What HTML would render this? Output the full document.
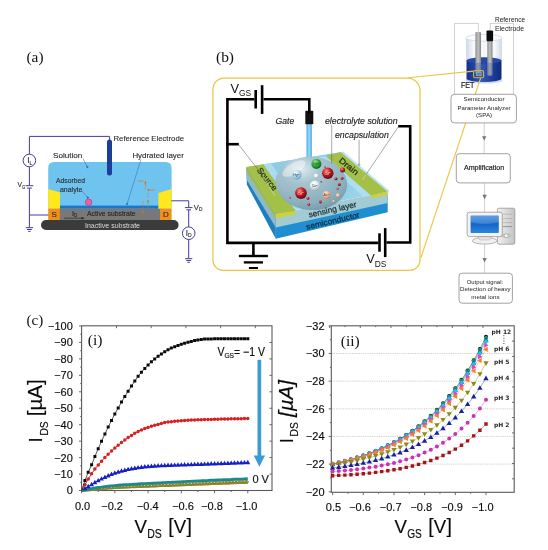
<!DOCTYPE html>
<html lang="en">
<head>
<meta charset="utf-8">
<title>FET sensor figure</title>
<style>
html,body{margin:0;padding:0;background:#fff;}
body{width:548px;height:550px;overflow:hidden;font-family:'Liberation Sans', 'DejaVu Sans', sans-serif;}
svg{display:block;}
text{font-family:'Liberation Sans', 'DejaVu Sans', sans-serif;}
.serif{font-family:'Liberation Serif', 'DejaVu Serif', serif;}
</style>
</head>
<body>
<svg width="548" height="550" viewBox="0 0 548 550">
<rect width="548" height="550" fill="#ffffff"/>
<g id="panel-a">
<text class="serif" x="26.5" y="61.6" font-size="15.5" fill="#111" textLength="17" lengthAdjust="spacingAndGlyphs">(a)</text>
<path d="M48.2,208.6 V168 Q48.2,162 54.2,162 H165.6 Q171.6,162 171.6,168 V208.6 Z" fill="#6fc3ef"/>
<rect x="59.8" y="205.6" width="98.8" height="3.2" fill="#1b75c9"/>
<rect x="59" y="208.6" width="102" height="11.6" fill="#787878"/>
<polygon points="48.2,189 60,192.6 60,208.6 48.2,208.6" fill="#ffe81e"/>
<polygon points="158.4,193 171.6,189 171.6,208.6 158.4,208.6" fill="#ffe81e"/>
<rect x="48.2" y="208.6" width="11.6" height="11.6" fill="#f0901c"/>
<rect x="160" y="208.6" width="11.6" height="11.6" fill="#f0901c"/>
<rect x="41" y="220" width="137.6" height="10" rx="5" ry="5" fill="#3b3b3b"/>
<rect x="107" y="139.4" width="5" height="36" rx="2.5" fill="#1c3e96"/>
<g fill="none" stroke="#433d9a" stroke-width="1">
<path d="M109.6,140 V136.4 H29.4 V154.2"/>
<circle cx="29.4" cy="160.5" r="6.3" fill="#fff"/>
<path d="M29.4,166.8 V185.4"/>
<path d="M25.5,185.7 H33.3"/>
<path d="M27,188.1 H31.8"/>
<path d="M29.4,188.3 V227.4"/>
<path d="M29.4,215 H48.4"/>
<path d="M25.8,227.7 H33 M27,229.5 H31.8 M28.2,231.3 H30.6"/>
<path d="M171.4,200.8 H188.7 V207.2"/>
<path d="M184.9,207.6 H192.5"/>
<path d="M186.4,209.8 H191"/>
<path d="M188.7,210 V226.8"/>
<circle cx="188.7" cy="233.2" r="6.3" fill="#fff"/>
<path d="M188.7,239.6 V258.4"/>
<path d="M185.1,258.7 H192.3 M186.3,260.5 H191.1 M187.5,262.3 H189.9"/>
</g>
<g fill="#2b2b2b" font-size="8" stroke="#2b2b2b" stroke-width="0.12">
<text x="113.5" y="141.2" textLength="70.5" lengthAdjust="spacingAndGlyphs">Reference Electrode</text>
<text x="53" y="158.2" textLength="29.4" lengthAdjust="spacingAndGlyphs">Solution</text>
<text x="132.4" y="158.2" textLength="51.4" lengthAdjust="spacingAndGlyphs">Hydrated layer</text>
<text x="56" y="182.6" textLength="29" lengthAdjust="spacingAndGlyphs">Adsorbed</text>
<text x="60" y="192" textLength="22.4" lengthAdjust="spacingAndGlyphs">analyte</text>
<text x="87" y="215.8" textLength="48.6" lengthAdjust="spacingAndGlyphs" fill="#1e1e1e">Active substrate</text>
<text x="85" y="228" textLength="55" lengthAdjust="spacingAndGlyphs" fill="#f4f4f4">Inactive substrate</text>
<text x="51.6" y="217.4" fill="#3a2a10">S</text>
<text x="163" y="217.4" fill="#3a2a10">D</text>
<text x="72" y="216" font-size="7.5" fill="#1e1e1e">I<tspan font-size="4.5" dy="1.4">D</tspan></text>
<text x="17.5" y="187.2" font-size="7.6" textLength="7.7" lengthAdjust="spacingAndGlyphs">V<tspan font-size="4.8" dy="1.4">G</tspan></text>
<text x="193.8" y="209.8" font-size="7.6">V<tspan font-size="4.8" dy="1.4">D</tspan></text>
<text x="27.2" y="163.2" font-size="8.2">I<tspan font-size="5" dy="1.6">L</tspan></text>
<text x="185.8" y="235.8" font-size="8.2">I<tspan font-size="5" dy="1.6">D</tspan></text>
</g>
<path d="M64,218.2 H82.6" stroke="#1e1e1e" stroke-width="0.6" fill="none"/>
<polygon points="84.6,218.2 81.6,217 81.6,219.4" fill="#1e1e1e"/>
<g stroke="#2a62b8" stroke-width="0.5" fill="#2a62b8">
<path d="M83,158.6 L87.2,166.6"/><circle cx="87.4" cy="167" r="0.8"/>
<path d="M81.4,190.4 L87.6,197.4"/><circle cx="87.8" cy="197.6" r="0.8"/>
<path d="M141,159.4 L127.2,203.6"/><circle cx="127" cy="204" r="0.8"/>
</g>
<circle cx="88.6" cy="202.3" r="3.3" fill="#ea5fa5" stroke="#a83a78" stroke-width="0.6"/>
<g stroke="#d9701e" stroke-width="0.7" fill="none">
<path d="M138,181 H143.4"/>
<path d="M145.8,186.4 L145.2,182.6" />
<path d="M145,187.8 L144.2,190.4" stroke-dasharray="1.4 1"/>
<path d="M150,190 H155"/>
<path d="M148.6,193.4 L147.6,197.8" stroke-dasharray="1.4 1"/>
<path d="M148,201 V204.4"/>
<path d="M143,201.4 V212" stroke-dasharray="1.6 1"/>
<path d="M148,206.4 V208" />
</g>
<g fill="#d9701e">
<polygon points="145.3,180.4 144.2,183.2 146.6,183.2"/>
<polygon points="146.6,190 149.4,188.8 149.4,191.2"/>
<polygon points="148,199.4 146.8,202 149.2,202"/>
<polygon points="143,213.6 141.8,211 144.2,211"/>
</g>
</g>
<defs>
<radialGradient id="gRed" cx="0.38" cy="0.32" r="0.75"><stop offset="0" stop-color="#ff9488"/><stop offset="0.45" stop-color="#c41a22"/><stop offset="1" stop-color="#520810"/></radialGradient>
<radialGradient id="gGreen" cx="0.38" cy="0.32" r="0.75"><stop offset="0" stop-color="#b8f5a0"/><stop offset="0.45" stop-color="#2fae3c"/><stop offset="1" stop-color="#0c5a1c"/></radialGradient>
<radialGradient id="gWhite" cx="0.38" cy="0.32" r="0.75"><stop offset="0" stop-color="#ffffff"/><stop offset="0.45" stop-color="#e4ecef"/><stop offset="1" stop-color="#8fa3ad"/></radialGradient>
<radialGradient id="gHg" cx="0.38" cy="0.32" r="0.75"><stop offset="0" stop-color="#ffffff"/><stop offset="0.45" stop-color="#b9ddf0"/><stop offset="1" stop-color="#5d9cc4"/></radialGradient>
<radialGradient id="gAs" cx="0.38" cy="0.32" r="0.75"><stop offset="0" stop-color="#ffe9dc"/><stop offset="0.45" stop-color="#f0b89a"/><stop offset="1" stop-color="#b9785c"/></radialGradient>
<radialGradient id="gDome" cx="0.35" cy="0.25" r="0.85"><stop offset="0" stop-color="#dfeaee" stop-opacity="0.97"/><stop offset="0.3" stop-color="#a8c5ce" stop-opacity="0.95"/><stop offset="0.75" stop-color="#8aaebb" stop-opacity="0.96"/><stop offset="1" stop-color="#6a93a5" stop-opacity="0.98"/></radialGradient>
<linearGradient id="gTube" x1="0" x2="1" y1="0" y2="0"><stop offset="0" stop-color="#48a8e2"/><stop offset="0.5" stop-color="#9cdcf8"/><stop offset="1" stop-color="#44a4de"/></linearGradient>
<linearGradient id="gTop" x1="0" x2="1" y1="0.2" y2="0.5"><stop offset="0" stop-color="#5aaed8"/><stop offset="0.45" stop-color="#7cc2e0"/><stop offset="1" stop-color="#a6daee"/></linearGradient>
<linearGradient id="gStrip" x1="0" x2="1" y1="0" y2="1"><stop offset="0" stop-color="#a6c34a"/><stop offset="1" stop-color="#93b43c"/></linearGradient>
<clipPath id="clipB"><rect x="212" y="77" width="210" height="195"/></clipPath>
</defs>
<g id="panel-b">
<text class="serif" x="216" y="61.5" font-size="15.5" fill="#111" textLength="18" lengthAdjust="spacingAndGlyphs">(b)</text>
<path d="M223.9,78.1 H407.5 A12.5,12.5 0 0 1 420.0,90.6 V259.9 A10.5,10.5 0 0 1 409.5,270.4 H223.4 A10.5,10.5 0 0 1 212.9,259.9 V89.1 A11,11 0 0 1 223.9,78.1 Z" fill="#fff" stroke="#e9c648" stroke-width="1.2"/>
<polygon points="246.4,167.2 275.8,214 275.8,238.8 246.9,184.8" fill="#1d7fbd"/>
<polygon points="246.4,167.2 275.8,214 275.8,227.6 246.7,179.7" fill="#8fb9c6"/>
<polygon points="246.4,167.2 275.8,214 275.8,218.4 246.5,171.2" fill="#a3ba40"/>
<polygon points="275.8,218 387.7,194 387.7,212.2 275.8,238.8" fill="#1f8fd2"/>
<polygon points="275.8,214 387.7,191.4 387.7,203 275.8,227.6" fill="#a3cbd4"/>
<polygon points="246.4,167.2 343.2,151.8 387.7,191.4 275.8,214" fill="url(#gTop)"/>
<polygon points="263.2,164.3 325.5,155 340,167 270,176" fill="#a8dcf0" opacity="0.55"/>
<polygon points="263.2,164.3 271,163.2 302,209.6 295.6,211" fill="#b4def1" opacity="0.85"/>
<polygon points="319,157.2 326,156.2 371,195.4 364,197" fill="#b4def1" opacity="0.85"/>
<polygon points="246.5,167 263.2,164.3 295.6,211 275.8,214" fill="#a4c046"/>
<polygon points="275.8,214 295.6,211 295.6,214.6 275.8,218.4" fill="#cbd23e"/>
<polygon points="326,156.2 340.6,152 387.7,191.4 371,195.4" fill="#a4c046"/>
<polygon points="371,195.4 387.7,191.4 387.7,195 371.8,198.4" fill="#c9d042"/>
<polygon points="340.6,152 343.2,151.8 389.2,190.6 387.7,195 387.7,191.4" fill="#bfe3f2"/>
<rect x="306.5" y="123" width="5.3" height="38" fill="url(#gTube)"/>
<ellipse cx="311.2" cy="183.4" rx="36" ry="26.6" fill="url(#gDome)" transform="rotate(4 311.2 183.4)"/>
<ellipse cx="294" cy="168.5" rx="13" ry="5.5" fill="#ffffff" opacity="0.42" transform="rotate(-32 294 168.5)"/>
<circle cx="316.4" cy="164.0" r="5.0" fill="url(#gGreen)"/>
<circle cx="327.8" cy="173.2" r="5.7" fill="url(#gRed)"/>
<circle cx="342.6" cy="170.0" r="2.5" fill="url(#gRed)"/>
<circle cx="296.6" cy="174.8" r="4.9" fill="url(#gHg)"/>
<circle cx="315.0" cy="185.6" r="5.2" fill="url(#gWhite)"/>
<circle cx="301.0" cy="193.1" r="5.9" fill="url(#gRed)"/>
<circle cx="326.6" cy="195.0" r="4.1" fill="url(#gAs)"/>
<circle cx="316.2" cy="176.0" r="2.4" fill="url(#gWhite)"/>
<circle cx="338.0" cy="195.4" r="2.1" fill="url(#gAs)"/>
<circle cx="333.6" cy="201.2" r="1.3" fill="url(#gAs)"/>
<circle cx="336" cy="178.7" r="1.5" fill="url(#gRed)"/>
<circle cx="342.1" cy="178.4" r="1.4" fill="url(#gRed)"/>
<circle cx="339.3" cy="184.4" r="1.5" fill="url(#gRed)"/>
<circle cx="321.2" cy="181.8" r="0.8" fill="url(#gRed)"/>
<circle cx="308" cy="198.4" r="1.4" fill="url(#gRed)"/>
<circle cx="290.2" cy="197.8" r="0.8" fill="url(#gRed)"/>
<circle cx="320.4" cy="202" r="1.4" fill="url(#gRed)"/>
<circle cx="308.8" cy="204.6" r="1.3" fill="url(#gRed)"/>
<circle cx="325" cy="167" r="0.8" fill="url(#gRed)"/>
<circle cx="337.6" cy="188.8" r="1.0" fill="url(#gRed)"/>
<rect x="305.3" y="110.8" width="8" height="13.4" rx="0.8" fill="#111"/>
<g font-size="3.4" fill="#1a2a33" font-style="italic" text-anchor="middle">
<text x="316.5" y="165.2">Pb<tspan font-size="2.2" dy="-1.2">2+</tspan></text>
<text x="296.7" y="176">Hg<tspan font-size="2.2" dy="-1.2">2+</tspan></text>
<text x="315.1" y="186.9">Cu<tspan font-size="2.2" dy="-1.2">2+</tspan></text>
<text x="301" y="194.5" fill="#fbdada">Cd<tspan font-size="2.2" dy="-1.2">2+</tspan></text>
<text x="327.8" y="174.6" fill="#fbdada">Cd<tspan font-size="2.2" dy="-1.2">2+</tspan></text>
<text x="326.7" y="196.2">As<tspan font-size="2.2" dy="-1.2">3+</tspan></text>
</g>
<text x="0" y="0" font-size="8.6" fill="#1c2a14" transform="translate(256.4,170.4) rotate(51)" textLength="27" lengthAdjust="spacingAndGlyphs" stroke="#1a2a2a" stroke-width="0.22">Source</text>
<text x="0" y="0" font-size="8.2" fill="#1c2a14" transform="translate(338.2,161.4) rotate(38.5)" textLength="22.6" lengthAdjust="spacingAndGlyphs" stroke="#1a2a2a" stroke-width="0.22">Drain</text>
<text x="0" y="0" font-size="8.2" fill="#13303c" transform="translate(309.2,217.6) rotate(-12.7)" textLength="49" lengthAdjust="spacingAndGlyphs" stroke="#1a2a2a" stroke-width="0.22">sensing layer</text>
<text x="0" y="0" font-size="8.2" fill="#0c2a44" transform="translate(306.8,229.8) rotate(-13.2)" textLength="54.6" lengthAdjust="spacingAndGlyphs" stroke="#1a2a2a" stroke-width="0.22">semiconductor</text>
<g stroke="#555" stroke-width="0.5" fill="none">
<path d="M238.4,144.3 L263,176"/>
<path d="M263,176 L274.8,195.8" stroke="#e8eedc"/>
<path d="M398.2,127 L366,174.6"/>
<path d="M366,174.6 L362.4,180" stroke="#e8eedc"/>
<path d="M331.7,124.6 V163.6"/>
<path d="M359.1,139.8 V164"/>
<circle cx="359.1" cy="164.8" r="0.9" fill="#fff"/>
</g>
<g font-size="8.2" font-style="italic" fill="#222" stroke="#222" stroke-width="0.14">
<text x="275.6" y="124.4" textLength="18.7" lengthAdjust="spacingAndGlyphs">Gate</text>
<text x="325" y="124" textLength="72.6" lengthAdjust="spacingAndGlyphs">electrolyte solution</text>
<text x="335" y="138" textLength="53.8" lengthAdjust="spacingAndGlyphs">encapsulation</text>
</g>
<g stroke="#000" stroke-width="2.6" fill="none" stroke-linejoin="miter" stroke-linecap="butt">
<path d="M254.4,99.2 H227.4 V242.9 H378.2"/>
<path d="M263.5,99.2 H309.3 V113"/>
<path d="M226.2,144.2 H238.8"/>
<path d="M386.5,242.5 H410.2 V126.3 H398.2"/>
<path d="M255.7,90 V108.5"/>
<path d="M262.1,85.2 V113.9"/>
<path d="M379.5,233.3 V251.7"/>
<path d="M385.2,228.1 V257.1"/>
<path d="M253.4,242.9 V256"/>
<path d="M238.9,256 H267.9" stroke-width="2.4"/>
<path d="M243.8,262.4 H263" stroke-width="2.3"/>
<path d="M248.9,268 H258" stroke-width="2"/>
</g>
<g fill="#111">
<text x="230.4" y="92.9" font-size="12.8">V<tspan font-size="8.4" dy="3.2">GS</tspan></text>
<text x="366.2" y="262.7" font-size="12.8">V<tspan font-size="8.4" dy="3.8">DS</tspan></text>
</g>
</g>
<defs>
<linearGradient id="gLiq" x1="0" x2="1" y1="0" y2="0"><stop offset="0" stop-color="#15328c"/><stop offset="0.45" stop-color="#2f55b6"/><stop offset="1" stop-color="#10297c"/></linearGradient>
<linearGradient id="gRod" x1="0" x2="1" y1="0" y2="0"><stop offset="0" stop-color="#8e8e8e"/><stop offset="0.5" stop-color="#c2c2c2"/><stop offset="1" stop-color="#858585"/></linearGradient>
<linearGradient id="gGlass" x1="0" x2="1" y1="0" y2="0"><stop offset="0" stop-color="#c9d4e6"/><stop offset="0.2" stop-color="#f4f7fb"/><stop offset="0.8" stop-color="#f4f7fb"/><stop offset="1" stop-color="#c9d4e6"/></linearGradient>
<linearGradient id="gScreen" x1="0" x2="0" y1="0" y2="1"><stop offset="0" stop-color="#3f8fe0"/><stop offset="0.5" stop-color="#1565c8"/><stop offset="1" stop-color="#2a86dc"/></linearGradient>
<linearGradient id="gTower" x1="0" x2="1" y1="0" y2="0"><stop offset="0" stop-color="#f1f1f1"/><stop offset="1" stop-color="#c4c4c4"/></linearGradient>
</defs>
<g id="flow">
<g stroke="#b2b2b2" stroke-width="0.6" fill="none">
<path d="M454.5,94.3 V23.4 H478.3 V32.4"/>
<path d="M513.5,94.3 V23.4 H490.2 V30.8"/>
</g>
<path d="M466,37.8 V79 A18,3.4 0 0 0 502,79 V37.8 A18,3.4 0 0 0 466,37.8 Z" fill="url(#gGlass)" opacity="0.9"/>
<ellipse cx="484" cy="37.8" rx="18" ry="3.4" fill="#fbfcfe" stroke="#c7d0e0" stroke-width="0.6"/>
<ellipse cx="484" cy="80.4" rx="18.4" ry="3.2" fill="#5a7be0" opacity="0.28"/><path d="M466.6,60.6 V78.6 A17.4,3.3 0 0 0 501.4,78.6 V60.6 Z" fill="url(#gLiq)"/>
<ellipse cx="484" cy="60.6" rx="17.4" ry="3.3" fill="#2749a8"/>
<rect x="475.4" y="32" width="5.6" height="42" rx="0.8" fill="url(#gRod)"/>
<rect x="487.3" y="40" width="5.2" height="35.6" rx="0.8" fill="url(#gRod)"/>
<rect x="486.5" y="30.4" width="6.6" height="10.8" rx="1.2" fill="#0c0c0c"/>
<rect x="475.4" y="62.8" width="5.6" height="11.2" fill="#2d52b4" opacity="0.35"/>
<rect x="487.3" y="62.8" width="5.2" height="12.8" fill="#2d52b4" opacity="0.3"/>
<rect x="476.2" y="72.2" width="5" height="3.6" fill="#5585bd" stroke="#9cc8e6" stroke-width="0.5"/>
<path d="M408,77.7 L473.6,71.1" stroke="#e9c648" stroke-width="1.1" fill="none"/>
<path d="M480.6,78 L420.8,258" stroke="#e9c648" stroke-width="1.1" fill="none"/>
<rect x="473.6" y="70.6" width="10" height="7.1" rx="1.4" fill="none" stroke="#dcb434" stroke-width="1.1"/>
<g fill="#222">
<text x="461" y="87.8" font-size="8.2" textLength="13.4" lengthAdjust="spacingAndGlyphs" stroke="#222" stroke-width="0.2">FET</text>
<text x="495" y="22.4" font-size="6.8" textLength="30" lengthAdjust="spacingAndGlyphs">Reference</text>
<text x="495" y="31.4" font-size="6.8" textLength="29" lengthAdjust="spacingAndGlyphs">Electrode</text>
</g>
<g fill="#fff" stroke="#7a7a7a" stroke-width="0.7">
<rect x="451" y="94.3" width="65.4" height="28.6" rx="3.4"/>
<rect x="456.3" y="153.7" width="54" height="29.2" rx="3.2"/>
<rect x="459" y="273.2" width="53.4" height="30" rx="3.2"/>
</g>
<g stroke="#b0b0b0" stroke-width="0.6" fill="none">
<path d="M484.2,122.9 V153.7"/>
<path d="M484.6,182.9 V212"/>
<path d="M484.6,244 V273.2"/>
</g>
<g fill="#777777">
<polygon points="482,136.2 486.4,136.2 484.2,140.6"/>
<polygon points="482.4,194.8 486.8,194.8 484.6,199.4"/>
<polygon points="482.4,258 486.8,258 484.6,262.6"/>
</g>
<g fill="#222" text-anchor="middle">
<text x="484.1" y="101.4" font-size="6.2" textLength="41" lengthAdjust="spacingAndGlyphs">Semiconductor</text>
<text x="484" y="109.6" font-size="6.2" textLength="53" lengthAdjust="spacingAndGlyphs">Parameter Analyzer</text>
<text x="484.1" y="117.4" font-size="6.2">(SPA)</text>
<text x="484.1" y="170.2" font-size="7.4" textLength="40.4" lengthAdjust="spacingAndGlyphs" stroke="#222" stroke-width="0.2">Amplification</text>
<text x="484.9" y="284" font-size="6.2" textLength="36.4" lengthAdjust="spacingAndGlyphs">Output signal:</text>
<text x="485.3" y="291.4" font-size="6.2" textLength="50.6" lengthAdjust="spacingAndGlyphs">Detection of heavy</text>
<text x="485.4" y="299" font-size="6.2">metal ions</text>
</g>
<rect x="497.4" y="208.2" width="17.4" height="36" rx="1.6" fill="url(#gTower)" stroke="#8a8a8a" stroke-width="0.7"/>
<g stroke="#9a9a9a" stroke-width="0.5"><path d="M503,214.2 H512.2 M503,218.6 H512.2 M503,222.6 H512.2"/></g>
<path d="M503,226.6 H512.2" stroke="#777" stroke-width="0.7"/>
<ellipse cx="506.2" cy="235.7" rx="4.6" ry="1.6" fill="#d8d8d8" stroke="#8a8a8a" stroke-width="0.5"/>
<circle cx="506.2" cy="235.7" r="2" fill="#f4f4f4" stroke="#7a9a7a" stroke-width="0.5"/>
<ellipse cx="484.6" cy="240.8" rx="12.4" ry="3.3" fill="#f0f0f0" stroke="#8a8a8a" stroke-width="0.6"/>
<path d="M477.6,236 H491.6 L489.4,240 H479.8 Z" fill="#e4e4e4" stroke="#9a9a9a" stroke-width="0.4"/>
<rect x="467.1" y="212.2" width="35.2" height="24.4" rx="2.4" fill="#f3f3f3" stroke="#8a8a8a" stroke-width="0.7"/>
<rect x="470.6" y="215.4" width="28.2" height="17.6" rx="0.8" fill="url(#gScreen)"/>
<path d="M470.6,215.4 H498.8 V222 Q484.6,226 470.6,222 Z" fill="#ffffff" opacity="0.16"/>
</g>
<g id="panel-c">
<text class="serif" x="26.5" y="324.7" font-size="15.5" fill="#111" textLength="16.7" lengthAdjust="spacingAndGlyphs">(c)</text>
<rect x="81.6" y="325.8" width="190.4" height="164.7" fill="#fff" stroke="#5a5a5a" stroke-width="1.1"/>
<path d="M79.0,490.50 H81.6 M80.2,482.27 H81.6 M79.0,474.05 H81.6 M272.0,474.05 H269.4 M80.2,465.82 H81.6 M79.0,457.60 H81.6 M272.0,457.60 H269.4 M80.2,449.38 H81.6 M79.0,441.15 H81.6 M272.0,441.15 H269.4 M80.2,432.93 H81.6 M79.0,424.70 H81.6 M272.0,424.70 H269.4 M80.2,416.48 H81.6 M79.0,408.25 H81.6 M272.0,408.25 H269.4 M80.2,400.02 H81.6 M79.0,391.80 H81.6 M272.0,391.80 H269.4 M80.2,383.57 H81.6 M79.0,375.35 H81.6 M272.0,375.35 H269.4 M80.2,367.12 H81.6 M79.0,358.90 H81.6 M272.0,358.90 H269.4 M80.2,350.68 H81.6 M79.0,342.45 H81.6 M272.0,342.45 H269.4 M80.2,334.23 H81.6 M79.0,326.00 H81.6 M81.60,490.5 V493.3 M98.22,490.5 V492.0 M114.84,490.5 V493.3 M131.46,490.5 V492.0 M148.08,490.5 V493.3 M164.70,490.5 V492.0 M181.32,490.5 V493.3 M197.94,490.5 V492.0 M214.56,490.5 V493.3 M231.18,490.5 V492.0 M247.80,490.5 V493.3 M116.50,325.8 V328.2 M151.20,325.8 V328.2 M185.90,325.8 V328.2 M220.60,325.8 V328.2 M255.30,325.8 V328.2" stroke="#5a5a5a" stroke-width="0.9" fill="none"/>
<g font-size="11" fill="#0a0a0a" stroke="#0a0a0a" stroke-width="0.14" text-anchor="end">
<text x="72.8" y="494.4">0</text>
<text x="72.8" y="477.9">−10</text>
<text x="72.8" y="461.5">−20</text>
<text x="72.8" y="445.0">−30</text>
<text x="72.8" y="428.6">−40</text>
<text x="72.8" y="412.1">−50</text>
<text x="72.8" y="395.7">−60</text>
<text x="72.8" y="379.2">−70</text>
<text x="72.8" y="362.8">−80</text>
<text x="72.8" y="346.3">−90</text>
<text x="72.8" y="329.9">−100</text>
</g>
<g font-size="11" fill="#0a0a0a" stroke="#0a0a0a" stroke-width="0.14" text-anchor="middle">
<text x="82.6" y="510.2">0.0</text>
<text x="112.1" y="510.2">−0.2</text>
<text x="147.8" y="510.2">−0.4</text>
<text x="183.0" y="510.2">−0.6</text>
<text x="212.0" y="510.2">−0.8</text>
<text x="246.5" y="510.2">−1.0</text>
</g>
<g fill="#0a0a0a" stroke="#0a0a0a" stroke-width="0.15">
<text x="134.4" y="532.5" font-size="18.6">V</text>
<text x="147.2" y="537.5" font-size="12.1" textLength="14.6" lengthAdjust="spacingAndGlyphs">DS</text>
<text x="168.3" y="532.5" font-size="19.5">[</text>
<text x="173.8" y="532.5" font-size="18.6">V</text>
<text x="186.5" y="532.5" font-size="19.5">]</text>
</g>
<g fill="#0a0a0a" stroke="#0a0a0a" stroke-width="0.15">
<text transform="translate(42.0,442.4) rotate(-90)" font-size="18.6">I</text>
<text transform="translate(47.6,435.6) rotate(-90)" font-size="11.7" textLength="14.2" lengthAdjust="spacingAndGlyphs">DS</text>
<text transform="translate(42.0,416.2) rotate(-90)" font-size="20" textLength="37" lengthAdjust="spacingAndGlyphs">[µA]</text>
</g>
<text class="serif" x="87.8" y="345.4" font-size="15.5" fill="#111">(i)</text>
<polyline points="81.6,490.5 84.9,490.2 88.2,490.0 91.6,489.7 94.9,489.4 98.2,489.2 101.5,488.9 104.9,488.7 108.2,488.4 111.5,488.2 114.8,488.0 118.2,487.9 121.5,487.7 124.8,487.6 128.1,487.4 131.5,487.3 134.8,487.1 138.1,487.0 141.4,486.9 144.8,486.8 148.1,486.7 151.4,486.5 154.7,486.4 158.1,486.3 161.4,486.2 164.7,486.1 168.0,485.9 171.3,485.8 174.7,485.7 178.0,485.5 181.3,485.4 184.6,485.3 188.0,485.2 191.3,485.0 194.6,484.9 197.9,484.8 201.3,484.7 204.6,484.5 207.9,484.4 211.2,484.3 214.6,484.2 217.9,484.0 221.2,483.9 224.5,483.8 227.9,483.7 231.2,483.5 234.5,483.4 237.8,483.3 241.2,483.2 244.5,483.1 247.8,482.9" fill="none" stroke="#c87a28" stroke-width="1.6"/>
<polyline points="81.6,490.5 84.9,490.1 88.2,489.6 91.6,489.3 94.9,488.9 98.2,488.5 101.5,488.2 104.9,487.9 108.2,487.6 111.5,487.3 114.8,487.0 118.2,486.8 121.5,486.6 124.8,486.4 128.1,486.3 131.5,486.1 134.8,485.9 138.1,485.8 141.4,485.6 144.8,485.5 148.1,485.3 151.4,485.2 154.7,485.0 158.1,484.9 161.4,484.7 164.7,484.6 168.0,484.4 171.3,484.3 174.7,484.1 178.0,484.0 181.3,483.8 184.6,483.7 188.0,483.5 191.3,483.4 194.6,483.2 197.9,483.1 201.3,482.9 204.6,482.8 207.9,482.6 211.2,482.5 214.6,482.3 217.9,482.2 221.2,482.1 224.5,481.9 227.9,481.8 231.2,481.6 234.5,481.5 237.8,481.4 241.2,481.2 244.5,481.1 247.8,481.0" fill="none" stroke="#b05a8a" stroke-width="1.4"/>
<polyline points="81.6,490.5 84.9,490.1 88.2,489.8 91.6,489.5 94.9,489.2 98.2,488.9 101.5,488.6 104.9,488.3 108.2,488.0 111.5,487.8 114.8,487.5 118.2,487.4 121.5,487.2 124.8,487.0 128.1,486.9 131.5,486.7 134.8,486.6 138.1,486.4 141.4,486.3 144.8,486.2 148.1,486.1 151.4,485.9 154.7,485.8 158.1,485.7 161.4,485.5 164.7,485.4 168.0,485.3 171.3,485.1 174.7,485.0 178.0,484.8 181.3,484.7 184.6,484.6 188.0,484.4 191.3,484.3 194.6,484.1 197.9,484.0 201.3,483.9 204.6,483.7 207.9,483.6 211.2,483.5 214.6,483.3 217.9,483.2 221.2,483.0 224.5,482.9 227.9,482.8 231.2,482.6 234.5,482.5 237.8,482.4 241.2,482.2 244.5,482.1 247.8,481.9" fill="none" stroke="#8c8a2a" stroke-width="3.2"/>
<path d="M84.0,489.2h1.8v1.8h-1.8zM87.3,488.9h1.8v1.8h-1.8zM90.7,488.6h1.8v1.8h-1.8zM94.0,488.3h1.8v1.8h-1.8zM97.3,488.0h1.8v1.8h-1.8zM100.6,487.7h1.8v1.8h-1.8zM104.0,487.4h1.8v1.8h-1.8zM107.3,487.1h1.8v1.8h-1.8zM110.6,486.9h1.8v1.8h-1.8zM113.9,486.6h1.8v1.8h-1.8zM117.3,486.5h1.8v1.8h-1.8zM120.6,486.3h1.8v1.8h-1.8zM123.9,486.1h1.8v1.8h-1.8zM127.2,486.0h1.8v1.8h-1.8zM130.6,485.8h1.8v1.8h-1.8zM133.9,485.7h1.8v1.8h-1.8zM137.2,485.5h1.8v1.8h-1.8zM140.5,485.4h1.8v1.8h-1.8zM143.9,485.3h1.8v1.8h-1.8zM147.2,485.2h1.8v1.8h-1.8zM150.5,485.0h1.8v1.8h-1.8zM153.8,484.9h1.8v1.8h-1.8zM157.2,484.8h1.8v1.8h-1.8zM160.5,484.6h1.8v1.8h-1.8zM163.8,484.5h1.8v1.8h-1.8zM167.1,484.4h1.8v1.8h-1.8zM170.4,484.2h1.8v1.8h-1.8zM173.8,484.1h1.8v1.8h-1.8zM177.1,483.9h1.8v1.8h-1.8zM180.4,483.8h1.8v1.8h-1.8zM183.7,483.7h1.8v1.8h-1.8zM187.1,483.5h1.8v1.8h-1.8zM190.4,483.4h1.8v1.8h-1.8zM193.7,483.2h1.8v1.8h-1.8zM197.0,483.1h1.8v1.8h-1.8zM200.4,483.0h1.8v1.8h-1.8zM203.7,482.8h1.8v1.8h-1.8zM207.0,482.7h1.8v1.8h-1.8zM210.3,482.6h1.8v1.8h-1.8zM213.7,482.4h1.8v1.8h-1.8zM217.0,482.3h1.8v1.8h-1.8zM220.3,482.1h1.8v1.8h-1.8zM223.6,482.0h1.8v1.8h-1.8zM227.0,481.9h1.8v1.8h-1.8zM230.3,481.7h1.8v1.8h-1.8zM233.6,481.6h1.8v1.8h-1.8zM236.9,481.5h1.8v1.8h-1.8zM240.3,481.3h1.8v1.8h-1.8zM243.6,481.2h1.8v1.8h-1.8zM246.9,481.0h1.8v1.8h-1.8z" fill="#8a7a1e"/>
<path d="M84.4,490.1a0.55,0.55 0 1,0 1.1,0a0.55,0.55 0 1,0 -1.1,0zM87.7,489.6a0.55,0.55 0 1,0 1.1,0a0.55,0.55 0 1,0 -1.1,0zM91.0,489.3a0.55,0.55 0 1,0 1.1,0a0.55,0.55 0 1,0 -1.1,0zM94.3,488.9a0.55,0.55 0 1,0 1.1,0a0.55,0.55 0 1,0 -1.1,0zM97.7,488.5a0.55,0.55 0 1,0 1.1,0a0.55,0.55 0 1,0 -1.1,0zM101.0,488.2a0.55,0.55 0 1,0 1.1,0a0.55,0.55 0 1,0 -1.1,0zM104.3,487.9a0.55,0.55 0 1,0 1.1,0a0.55,0.55 0 1,0 -1.1,0zM107.6,487.6a0.55,0.55 0 1,0 1.1,0a0.55,0.55 0 1,0 -1.1,0zM111.0,487.3a0.55,0.55 0 1,0 1.1,0a0.55,0.55 0 1,0 -1.1,0zM114.3,487.0a0.55,0.55 0 1,0 1.1,0a0.55,0.55 0 1,0 -1.1,0zM117.6,486.8a0.55,0.55 0 1,0 1.1,0a0.55,0.55 0 1,0 -1.1,0zM120.9,486.6a0.55,0.55 0 1,0 1.1,0a0.55,0.55 0 1,0 -1.1,0zM124.3,486.4a0.55,0.55 0 1,0 1.1,0a0.55,0.55 0 1,0 -1.1,0zM127.6,486.3a0.55,0.55 0 1,0 1.1,0a0.55,0.55 0 1,0 -1.1,0zM130.9,486.1a0.55,0.55 0 1,0 1.1,0a0.55,0.55 0 1,0 -1.1,0zM134.2,485.9a0.55,0.55 0 1,0 1.1,0a0.55,0.55 0 1,0 -1.1,0zM137.6,485.8a0.55,0.55 0 1,0 1.1,0a0.55,0.55 0 1,0 -1.1,0zM140.9,485.6a0.55,0.55 0 1,0 1.1,0a0.55,0.55 0 1,0 -1.1,0zM144.2,485.5a0.55,0.55 0 1,0 1.1,0a0.55,0.55 0 1,0 -1.1,0zM147.5,485.3a0.55,0.55 0 1,0 1.1,0a0.55,0.55 0 1,0 -1.1,0zM150.9,485.2a0.55,0.55 0 1,0 1.1,0a0.55,0.55 0 1,0 -1.1,0zM154.2,485.0a0.55,0.55 0 1,0 1.1,0a0.55,0.55 0 1,0 -1.1,0zM157.5,484.9a0.55,0.55 0 1,0 1.1,0a0.55,0.55 0 1,0 -1.1,0zM160.8,484.7a0.55,0.55 0 1,0 1.1,0a0.55,0.55 0 1,0 -1.1,0zM164.1,484.6a0.55,0.55 0 1,0 1.1,0a0.55,0.55 0 1,0 -1.1,0zM167.5,484.4a0.55,0.55 0 1,0 1.1,0a0.55,0.55 0 1,0 -1.1,0zM170.8,484.3a0.55,0.55 0 1,0 1.1,0a0.55,0.55 0 1,0 -1.1,0zM174.1,484.1a0.55,0.55 0 1,0 1.1,0a0.55,0.55 0 1,0 -1.1,0zM177.4,484.0a0.55,0.55 0 1,0 1.1,0a0.55,0.55 0 1,0 -1.1,0zM180.8,483.8a0.55,0.55 0 1,0 1.1,0a0.55,0.55 0 1,0 -1.1,0zM184.1,483.7a0.55,0.55 0 1,0 1.1,0a0.55,0.55 0 1,0 -1.1,0zM187.4,483.5a0.55,0.55 0 1,0 1.1,0a0.55,0.55 0 1,0 -1.1,0zM190.7,483.4a0.55,0.55 0 1,0 1.1,0a0.55,0.55 0 1,0 -1.1,0zM194.1,483.2a0.55,0.55 0 1,0 1.1,0a0.55,0.55 0 1,0 -1.1,0zM197.4,483.1a0.55,0.55 0 1,0 1.1,0a0.55,0.55 0 1,0 -1.1,0zM200.7,482.9a0.55,0.55 0 1,0 1.1,0a0.55,0.55 0 1,0 -1.1,0zM204.0,482.8a0.55,0.55 0 1,0 1.1,0a0.55,0.55 0 1,0 -1.1,0zM207.4,482.6a0.55,0.55 0 1,0 1.1,0a0.55,0.55 0 1,0 -1.1,0zM210.7,482.5a0.55,0.55 0 1,0 1.1,0a0.55,0.55 0 1,0 -1.1,0zM214.0,482.3a0.55,0.55 0 1,0 1.1,0a0.55,0.55 0 1,0 -1.1,0zM217.3,482.2a0.55,0.55 0 1,0 1.1,0a0.55,0.55 0 1,0 -1.1,0zM220.7,482.1a0.55,0.55 0 1,0 1.1,0a0.55,0.55 0 1,0 -1.1,0zM224.0,481.9a0.55,0.55 0 1,0 1.1,0a0.55,0.55 0 1,0 -1.1,0zM227.3,481.8a0.55,0.55 0 1,0 1.1,0a0.55,0.55 0 1,0 -1.1,0zM230.6,481.6a0.55,0.55 0 1,0 1.1,0a0.55,0.55 0 1,0 -1.1,0zM234.0,481.5a0.55,0.55 0 1,0 1.1,0a0.55,0.55 0 1,0 -1.1,0zM237.3,481.4a0.55,0.55 0 1,0 1.1,0a0.55,0.55 0 1,0 -1.1,0zM240.6,481.2a0.55,0.55 0 1,0 1.1,0a0.55,0.55 0 1,0 -1.1,0zM243.9,481.1a0.55,0.55 0 1,0 1.1,0a0.55,0.55 0 1,0 -1.1,0zM247.2,481.0a0.55,0.55 0 1,0 1.1,0a0.55,0.55 0 1,0 -1.1,0z" fill="#f2e6e0"/>
<polyline points="81.6,490.5 84.9,489.8 88.2,489.2 91.6,488.6 94.9,488.0 98.2,487.5 101.5,487.1 104.9,486.6 108.2,486.2 111.5,485.9 114.8,485.6 118.2,485.3 121.5,485.0 124.8,484.8 128.1,484.6 131.5,484.4 134.8,484.2 138.1,484.0 141.4,483.8 144.8,483.6 148.1,483.4 151.4,483.3 154.7,483.1 158.1,482.9 161.4,482.8 164.7,482.6 168.0,482.4 171.3,482.3 174.7,482.1 178.0,481.9 181.3,481.8 184.6,481.6 188.0,481.4 191.3,481.3 194.6,481.1 197.9,480.9 201.3,480.8 204.6,480.6 207.9,480.5 211.2,480.3 214.6,480.2 217.9,480.0 221.2,479.9 224.5,479.7 227.9,479.6 231.2,479.5 234.5,479.3 237.8,479.2 241.2,479.1 244.5,478.9 247.8,478.8" fill="none" stroke="#1a8a8c" stroke-width="2.9"/>
<polyline points="81.6,490.5 84.9,488.5 88.2,486.6 91.6,484.6 94.9,482.5 98.2,480.6 101.5,478.9 104.9,477.2 108.2,475.7 111.5,474.3 114.8,473.1 118.2,472.0 121.5,471.1 124.8,470.2 128.1,469.4 131.5,468.8 134.8,468.2 138.1,467.7 141.4,467.2 144.8,466.8 148.1,466.5 151.4,466.2 154.7,466.0 158.1,465.8 161.4,465.7 164.7,465.5 168.0,465.4 171.3,465.2 174.7,465.1 178.0,465.0 181.3,464.9 184.6,464.8 188.0,464.7 191.3,464.6 194.6,464.5 197.9,464.3 201.3,464.2 204.6,464.1 207.9,464.0 211.2,463.9 214.6,463.8 217.9,463.6 221.2,463.5 224.5,463.4 227.9,463.3 231.2,463.1 234.5,463.0 237.8,462.9 241.2,462.8 244.5,462.7 247.8,462.5" fill="none" stroke="#1a28c8" stroke-width="0.8"/>
<path d="M84.9,485.8l2.42,4.40h-4.84zM88.2,483.8l2.42,4.40h-4.84zM91.6,481.8l2.42,4.40h-4.84zM94.9,479.8l2.42,4.40h-4.84zM98.2,477.9l2.42,4.40h-4.84zM101.5,476.2l2.42,4.40h-4.84zM104.9,474.5l2.42,4.40h-4.84zM108.2,473.0l2.42,4.40h-4.84zM111.5,471.5l2.42,4.40h-4.84zM114.8,470.3l2.42,4.40h-4.84zM118.2,469.3l2.42,4.40h-4.84zM121.5,468.3l2.42,4.40h-4.84zM124.8,467.5l2.42,4.40h-4.84zM128.1,466.7l2.42,4.40h-4.84zM131.5,466.1l2.42,4.40h-4.84zM134.8,465.5l2.42,4.40h-4.84zM138.1,464.9l2.42,4.40h-4.84zM141.4,464.5l2.42,4.40h-4.84zM144.8,464.1l2.42,4.40h-4.84zM148.1,463.8l2.42,4.40h-4.84zM151.4,463.5l2.42,4.40h-4.84zM154.7,463.3l2.42,4.40h-4.84zM158.1,463.1l2.42,4.40h-4.84zM161.4,462.9l2.42,4.40h-4.84zM164.7,462.8l2.42,4.40h-4.84zM168.0,462.6l2.42,4.40h-4.84zM171.3,462.5l2.42,4.40h-4.84zM174.7,462.4l2.42,4.40h-4.84zM178.0,462.3l2.42,4.40h-4.84zM181.3,462.2l2.42,4.40h-4.84zM184.6,462.0l2.42,4.40h-4.84zM188.0,461.9l2.42,4.40h-4.84zM191.3,461.8l2.42,4.40h-4.84zM194.6,461.7l2.42,4.40h-4.84zM197.9,461.6l2.42,4.40h-4.84zM201.3,461.5l2.42,4.40h-4.84zM204.6,461.4l2.42,4.40h-4.84zM207.9,461.3l2.42,4.40h-4.84zM211.2,461.1l2.42,4.40h-4.84zM214.6,461.0l2.42,4.40h-4.84zM217.9,460.9l2.42,4.40h-4.84zM221.2,460.8l2.42,4.40h-4.84zM224.5,460.7l2.42,4.40h-4.84zM227.9,460.5l2.42,4.40h-4.84zM231.2,460.4l2.42,4.40h-4.84zM234.5,460.3l2.42,4.40h-4.84zM237.8,460.2l2.42,4.40h-4.84zM241.2,460.1l2.42,4.40h-4.84zM244.5,459.9l2.42,4.40h-4.84zM247.8,459.8l2.42,4.40h-4.84z" fill="#1420c4"/>
<polyline points="81.6,490.5 84.9,484.8 88.2,479.1 91.6,473.7 94.9,469.1 98.2,465.0 101.5,461.2 104.9,457.6 108.2,454.2 111.5,451.1 114.8,448.1 118.2,445.2 121.5,442.5 124.8,440.0 128.1,437.6 131.5,435.4 134.8,433.3 138.1,431.4 141.4,429.9 144.8,428.6 148.1,427.4 151.4,426.3 154.7,425.3 158.1,424.4 161.4,423.4 164.7,422.6 168.0,422.1 171.3,421.7 174.7,421.3 178.0,421.0 181.3,420.8 184.6,420.5 188.0,420.3 191.3,420.1 194.6,420.0 197.9,419.8 201.3,419.7 204.6,419.6 207.9,419.5 211.2,419.4 214.6,419.3 217.9,419.2 221.2,419.1 224.5,419.0 227.9,418.9 231.2,418.8 234.5,418.8 237.8,418.7 241.2,418.7 244.5,418.6 247.8,418.6" fill="none" stroke="#d81e1e" stroke-width="0.9"/>
<path d="M83.2,484.8a1.75,1.75 0 1,0 3.5,0a1.75,1.75 0 1,0 -3.5,0zM86.5,479.1a1.75,1.75 0 1,0 3.5,0a1.75,1.75 0 1,0 -3.5,0zM89.8,473.7a1.75,1.75 0 1,0 3.5,0a1.75,1.75 0 1,0 -3.5,0zM93.1,469.1a1.75,1.75 0 1,0 3.5,0a1.75,1.75 0 1,0 -3.5,0zM96.5,465.0a1.75,1.75 0 1,0 3.5,0a1.75,1.75 0 1,0 -3.5,0zM99.8,461.2a1.75,1.75 0 1,0 3.5,0a1.75,1.75 0 1,0 -3.5,0zM103.1,457.6a1.75,1.75 0 1,0 3.5,0a1.75,1.75 0 1,0 -3.5,0zM106.4,454.2a1.75,1.75 0 1,0 3.5,0a1.75,1.75 0 1,0 -3.5,0zM109.8,451.1a1.75,1.75 0 1,0 3.5,0a1.75,1.75 0 1,0 -3.5,0zM113.1,448.1a1.75,1.75 0 1,0 3.5,0a1.75,1.75 0 1,0 -3.5,0zM116.4,445.2a1.75,1.75 0 1,0 3.5,0a1.75,1.75 0 1,0 -3.5,0zM119.7,442.5a1.75,1.75 0 1,0 3.5,0a1.75,1.75 0 1,0 -3.5,0zM123.1,440.0a1.75,1.75 0 1,0 3.5,0a1.75,1.75 0 1,0 -3.5,0zM126.4,437.6a1.75,1.75 0 1,0 3.5,0a1.75,1.75 0 1,0 -3.5,0zM129.7,435.4a1.75,1.75 0 1,0 3.5,0a1.75,1.75 0 1,0 -3.5,0zM133.0,433.3a1.75,1.75 0 1,0 3.5,0a1.75,1.75 0 1,0 -3.5,0zM136.4,431.4a1.75,1.75 0 1,0 3.5,0a1.75,1.75 0 1,0 -3.5,0zM139.7,429.9a1.75,1.75 0 1,0 3.5,0a1.75,1.75 0 1,0 -3.5,0zM143.0,428.6a1.75,1.75 0 1,0 3.5,0a1.75,1.75 0 1,0 -3.5,0zM146.3,427.4a1.75,1.75 0 1,0 3.5,0a1.75,1.75 0 1,0 -3.5,0zM149.7,426.3a1.75,1.75 0 1,0 3.5,0a1.75,1.75 0 1,0 -3.5,0zM153.0,425.3a1.75,1.75 0 1,0 3.5,0a1.75,1.75 0 1,0 -3.5,0zM156.3,424.4a1.75,1.75 0 1,0 3.5,0a1.75,1.75 0 1,0 -3.5,0zM159.6,423.4a1.75,1.75 0 1,0 3.5,0a1.75,1.75 0 1,0 -3.5,0zM162.9,422.6a1.75,1.75 0 1,0 3.5,0a1.75,1.75 0 1,0 -3.5,0zM166.3,422.1a1.75,1.75 0 1,0 3.5,0a1.75,1.75 0 1,0 -3.5,0zM169.6,421.7a1.75,1.75 0 1,0 3.5,0a1.75,1.75 0 1,0 -3.5,0zM172.9,421.3a1.75,1.75 0 1,0 3.5,0a1.75,1.75 0 1,0 -3.5,0zM176.2,421.0a1.75,1.75 0 1,0 3.5,0a1.75,1.75 0 1,0 -3.5,0zM179.6,420.8a1.75,1.75 0 1,0 3.5,0a1.75,1.75 0 1,0 -3.5,0zM182.9,420.5a1.75,1.75 0 1,0 3.5,0a1.75,1.75 0 1,0 -3.5,0zM186.2,420.3a1.75,1.75 0 1,0 3.5,0a1.75,1.75 0 1,0 -3.5,0zM189.5,420.1a1.75,1.75 0 1,0 3.5,0a1.75,1.75 0 1,0 -3.5,0zM192.9,420.0a1.75,1.75 0 1,0 3.5,0a1.75,1.75 0 1,0 -3.5,0zM196.2,419.8a1.75,1.75 0 1,0 3.5,0a1.75,1.75 0 1,0 -3.5,0zM199.5,419.7a1.75,1.75 0 1,0 3.5,0a1.75,1.75 0 1,0 -3.5,0zM202.8,419.6a1.75,1.75 0 1,0 3.5,0a1.75,1.75 0 1,0 -3.5,0zM206.2,419.5a1.75,1.75 0 1,0 3.5,0a1.75,1.75 0 1,0 -3.5,0zM209.5,419.4a1.75,1.75 0 1,0 3.5,0a1.75,1.75 0 1,0 -3.5,0zM212.8,419.3a1.75,1.75 0 1,0 3.5,0a1.75,1.75 0 1,0 -3.5,0zM216.1,419.2a1.75,1.75 0 1,0 3.5,0a1.75,1.75 0 1,0 -3.5,0zM219.5,419.1a1.75,1.75 0 1,0 3.5,0a1.75,1.75 0 1,0 -3.5,0zM222.8,419.0a1.75,1.75 0 1,0 3.5,0a1.75,1.75 0 1,0 -3.5,0zM226.1,418.9a1.75,1.75 0 1,0 3.5,0a1.75,1.75 0 1,0 -3.5,0zM229.4,418.8a1.75,1.75 0 1,0 3.5,0a1.75,1.75 0 1,0 -3.5,0zM232.8,418.8a1.75,1.75 0 1,0 3.5,0a1.75,1.75 0 1,0 -3.5,0zM236.1,418.7a1.75,1.75 0 1,0 3.5,0a1.75,1.75 0 1,0 -3.5,0zM239.4,418.7a1.75,1.75 0 1,0 3.5,0a1.75,1.75 0 1,0 -3.5,0zM242.7,418.6a1.75,1.75 0 1,0 3.5,0a1.75,1.75 0 1,0 -3.5,0zM246.0,418.6a1.75,1.75 0 1,0 3.5,0a1.75,1.75 0 1,0 -3.5,0z" fill="#d81e1e"/>
<polyline points="81.6,490.5 84.9,480.6 88.2,472.3 91.6,464.8 94.9,456.6 98.2,448.7 101.5,441.3 104.9,434.1 108.2,427.1 111.5,420.4 114.8,414.0 118.2,407.9 121.5,402.1 124.8,396.6 128.1,391.2 131.5,386.0 134.8,381.0 138.1,376.3 141.4,372.2 144.8,368.5 148.1,365.0 151.4,361.8 154.7,358.9 158.1,356.3 161.4,353.9 164.7,351.8 168.0,349.8 171.3,348.1 174.7,346.7 178.0,345.4 181.3,344.2 184.6,343.2 188.0,342.3 191.3,341.5 194.6,340.6 197.9,339.9 201.3,339.4 204.6,339.1 207.9,339.0 211.2,338.9 214.6,338.8 217.9,338.7 221.2,338.7 224.5,338.7 227.9,338.7 231.2,338.7 234.5,338.7 237.8,338.7 241.2,338.7 244.5,338.7 247.8,338.7" fill="none" stroke="#111" stroke-width="0.7"/>
<path d="M83.4,479.1h3.0v3.0h-3.0zM86.7,470.8h3.0v3.0h-3.0zM90.1,463.3h3.0v3.0h-3.0zM93.4,455.1h3.0v3.0h-3.0zM96.7,447.2h3.0v3.0h-3.0zM100.0,439.8h3.0v3.0h-3.0zM103.4,432.6h3.0v3.0h-3.0zM106.7,425.6h3.0v3.0h-3.0zM110.0,418.9h3.0v3.0h-3.0zM113.3,412.5h3.0v3.0h-3.0zM116.7,406.4h3.0v3.0h-3.0zM120.0,400.6h3.0v3.0h-3.0zM123.3,395.1h3.0v3.0h-3.0zM126.6,389.7h3.0v3.0h-3.0zM130.0,384.5h3.0v3.0h-3.0zM133.3,379.5h3.0v3.0h-3.0zM136.6,374.8h3.0v3.0h-3.0zM139.9,370.7h3.0v3.0h-3.0zM143.3,367.0h3.0v3.0h-3.0zM146.6,363.5h3.0v3.0h-3.0zM149.9,360.3h3.0v3.0h-3.0zM153.2,357.4h3.0v3.0h-3.0zM156.6,354.8h3.0v3.0h-3.0zM159.9,352.4h3.0v3.0h-3.0zM163.2,350.3h3.0v3.0h-3.0zM166.5,348.3h3.0v3.0h-3.0zM169.8,346.6h3.0v3.0h-3.0zM173.2,345.2h3.0v3.0h-3.0zM176.5,343.9h3.0v3.0h-3.0zM179.8,342.7h3.0v3.0h-3.0zM183.1,341.7h3.0v3.0h-3.0zM186.5,340.8h3.0v3.0h-3.0zM189.8,340.0h3.0v3.0h-3.0zM193.1,339.1h3.0v3.0h-3.0zM196.4,338.4h3.0v3.0h-3.0zM199.8,337.9h3.0v3.0h-3.0zM203.1,337.6h3.0v3.0h-3.0zM206.4,337.5h3.0v3.0h-3.0zM209.7,337.4h3.0v3.0h-3.0zM213.1,337.3h3.0v3.0h-3.0zM216.4,337.2h3.0v3.0h-3.0zM219.7,337.2h3.0v3.0h-3.0zM223.0,337.2h3.0v3.0h-3.0zM226.4,337.2h3.0v3.0h-3.0zM229.7,337.2h3.0v3.0h-3.0zM233.0,337.2h3.0v3.0h-3.0zM236.3,337.2h3.0v3.0h-3.0zM239.7,337.2h3.0v3.0h-3.0zM243.0,337.2h3.0v3.0h-3.0zM246.3,337.2h3.0v3.0h-3.0z" fill="#0a0a0a"/>
<text x="217.4" y="355.7" font-size="12" fill="#111" stroke="#111" stroke-width="0.18" textLength="47.5" lengthAdjust="spacingAndGlyphs">V<tspan font-size="7.6" dy="2.2">GS</tspan><tspan dy="-2.2">= −1 V</tspan></text>
<rect x="257.5" y="359.8" width="3.7" height="96.4" fill="#3a9bd6"/>
<polygon points="253.7,455.4 265,455.4 259.35,466.8" fill="#3a9bd6"/>
<text x="252.4" y="483.2" font-size="11" fill="#111" stroke="#111" stroke-width="0.15" textLength="16.6" lengthAdjust="spacingAndGlyphs">0 V</text>
<rect x="331.3" y="325.8" width="182.9" height="166.5" fill="#fff" stroke="#5a5a5a" stroke-width="1.1"/>
<path d="M332.3,464.14 H513.2 M332.3,436.48 H513.2 M332.3,408.82 H513.2 M332.3,381.16 H513.2 M332.3,353.50 H513.2" stroke="#b4b4b4" stroke-width="0.7" stroke-dasharray="0.9 0.9" fill="none"/>
<path d="M328.7,491.80 H331.3 M329.9,477.97 H331.3 M328.7,464.14 H331.3 M329.9,450.31 H331.3 M328.7,436.48 H331.3 M329.9,422.65 H331.3 M328.7,408.82 H331.3 M329.9,394.99 H331.3 M328.7,381.16 H331.3 M329.9,367.33 H331.3 M328.7,353.50 H331.3 M329.9,339.67 H331.3 M328.7,325.84 H331.3 M512.0,341.10 H514.2 M512.0,356.40 H514.2 M512.0,371.70 H514.2 M512.0,387.00 H514.2 M512.0,402.30 H514.2 M512.0,417.60 H514.2 M512.0,432.90 H514.2 M512.0,448.20 H514.2 M512.0,463.50 H514.2 M512.0,478.80 H514.2 M332.60,492.3 V495.1 M329.60,325.8 V328.0 M347.94,492.3 V493.8 M344.94,325.8 V327.1 M363.28,492.3 V495.1 M360.28,325.8 V328.0 M378.62,492.3 V493.8 M375.62,325.8 V327.1 M393.96,492.3 V495.1 M390.96,325.8 V328.0 M409.30,492.3 V493.8 M406.30,325.8 V327.1 M424.64,492.3 V495.1 M421.64,325.8 V328.0 M439.98,492.3 V493.8 M436.98,325.8 V327.1 M455.32,492.3 V495.1 M452.32,325.8 V328.0 M470.66,492.3 V493.8 M467.66,325.8 V327.1 M486.00,492.3 V495.1 M483.00,325.8 V328.0" stroke="#5a5a5a" stroke-width="0.9" fill="none"/>
<g font-size="11" fill="#0a0a0a" stroke="#0a0a0a" stroke-width="0.14" text-anchor="end">
<text x="324.6" y="495.7">−20</text>
<text x="324.6" y="468.0">−22</text>
<text x="324.6" y="440.4">−24</text>
<text x="324.6" y="412.7">−26</text>
<text x="324.6" y="385.1">−28</text>
<text x="324.6" y="357.4">−30</text>
<text x="324.6" y="329.7">−32</text>
</g>
<g font-size="11" fill="#0a0a0a" stroke="#0a0a0a" stroke-width="0.14" text-anchor="middle">
<text x="333.5" y="511.1">0.5</text>
<text x="360.0" y="511.1">−0.6</text>
<text x="390.7" y="511.1">−0.7</text>
<text x="421.3" y="511.1">−0.8</text>
<text x="452.0" y="511.1">−0.9</text>
<text x="482.7" y="511.1">−1.0</text>
</g>
<g fill="#0a0a0a" stroke="#0a0a0a" stroke-width="0.15">
<text x="394.4" y="533.3" font-size="18.6">V</text>
<text x="407.2" y="538.3" font-size="12.1" textLength="14.6" lengthAdjust="spacingAndGlyphs">GS</text>
<text x="428.3" y="533.3" font-size="19.5">[</text>
<text x="433.8" y="533.3" font-size="18.6">V</text>
<text x="446.5" y="533.3" font-size="19.5">]</text>
</g>
<g fill="#0a0a0a" stroke="#0a0a0a" stroke-width="0.15">
<text transform="translate(292.6,443.2) rotate(-90)" font-size="18.6">I</text>
<text transform="translate(298.2,436.4) rotate(-90)" font-size="11.7" textLength="14.2" lengthAdjust="spacingAndGlyphs">DS</text>
<text transform="translate(292.6,417.0) rotate(-90)" font-size="20" font-style="italic" textLength="37" lengthAdjust="spacingAndGlyphs">[µA]</text>
</g>
<text class="serif" x="340.8" y="345.6" font-size="15.5" fill="#111">(ii)</text>
<polyline points="332.6,464.1 338.7,462.7 344.9,461.2 351.0,459.5 357.1,457.6 363.3,455.6 369.4,453.4 375.6,451.0 381.7,448.3 387.8,445.4 394.0,442.3 400.1,438.8 406.2,435.0 412.4,430.8 418.5,426.3 424.6,421.3 430.8,415.9 436.9,409.9 443.0,403.4 449.2,396.2 455.3,388.4 461.5,379.9 467.6,370.6 473.7,360.3 479.9,349.1 486.0,336.9" fill="none" stroke="#111111" stroke-width="0.5" opacity="0.8"/>
<path d="M330.5,464.1a2.1,2.1 0 1,0 4.2,0a2.1,2.1 0 1,0 -4.2,0zM336.6,462.7a2.1,2.1 0 1,0 4.2,0a2.1,2.1 0 1,0 -4.2,0zM342.8,461.2a2.1,2.1 0 1,0 4.2,0a2.1,2.1 0 1,0 -4.2,0zM348.9,459.5a2.1,2.1 0 1,0 4.2,0a2.1,2.1 0 1,0 -4.2,0zM355.0,457.6a2.1,2.1 0 1,0 4.2,0a2.1,2.1 0 1,0 -4.2,0zM361.2,455.6a2.1,2.1 0 1,0 4.2,0a2.1,2.1 0 1,0 -4.2,0zM367.3,453.4a2.1,2.1 0 1,0 4.2,0a2.1,2.1 0 1,0 -4.2,0zM373.5,451.0a2.1,2.1 0 1,0 4.2,0a2.1,2.1 0 1,0 -4.2,0zM379.6,448.3a2.1,2.1 0 1,0 4.2,0a2.1,2.1 0 1,0 -4.2,0zM385.7,445.4a2.1,2.1 0 1,0 4.2,0a2.1,2.1 0 1,0 -4.2,0zM391.9,442.3a2.1,2.1 0 1,0 4.2,0a2.1,2.1 0 1,0 -4.2,0zM398.0,438.8a2.1,2.1 0 1,0 4.2,0a2.1,2.1 0 1,0 -4.2,0zM404.1,435.0a2.1,2.1 0 1,0 4.2,0a2.1,2.1 0 1,0 -4.2,0zM410.3,430.8a2.1,2.1 0 1,0 4.2,0a2.1,2.1 0 1,0 -4.2,0zM416.4,426.3a2.1,2.1 0 1,0 4.2,0a2.1,2.1 0 1,0 -4.2,0zM422.5,421.3a2.1,2.1 0 1,0 4.2,0a2.1,2.1 0 1,0 -4.2,0zM428.7,415.9a2.1,2.1 0 1,0 4.2,0a2.1,2.1 0 1,0 -4.2,0zM434.8,409.9a2.1,2.1 0 1,0 4.2,0a2.1,2.1 0 1,0 -4.2,0zM440.9,403.4a2.1,2.1 0 1,0 4.2,0a2.1,2.1 0 1,0 -4.2,0zM447.1,396.2a2.1,2.1 0 1,0 4.2,0a2.1,2.1 0 1,0 -4.2,0zM453.2,388.4a2.1,2.1 0 1,0 4.2,0a2.1,2.1 0 1,0 -4.2,0zM459.4,379.9a2.1,2.1 0 1,0 4.2,0a2.1,2.1 0 1,0 -4.2,0zM465.5,370.6a2.1,2.1 0 1,0 4.2,0a2.1,2.1 0 1,0 -4.2,0zM471.6,360.3a2.1,2.1 0 1,0 4.2,0a2.1,2.1 0 1,0 -4.2,0zM477.8,349.1a2.1,2.1 0 1,0 4.2,0a2.1,2.1 0 1,0 -4.2,0zM483.9,336.9a2.1,2.1 0 1,0 4.2,0a2.1,2.1 0 1,0 -4.2,0z" fill="#111111"/>
<polyline points="332.6,464.1 338.7,462.7 344.9,461.2 351.0,459.5 357.1,457.7 363.3,455.7 369.4,453.5 375.6,451.1 381.7,448.5 387.8,445.6 394.0,442.4 400.1,439.0 406.2,435.2 412.4,431.1 418.5,426.6 424.6,421.7 430.8,416.3 436.9,410.4 443.0,403.9 449.2,396.8 455.3,389.1 461.5,380.6 467.6,371.4 473.7,361.2 479.9,350.1 486.0,338.0" fill="none" stroke="#1fae3a" stroke-width="0.5" opacity="0.8"/>
<path d="M330.5,464.1a2.1,2.1 0 1,0 4.2,0a2.1,2.1 0 1,0 -4.2,0zM336.6,462.7a2.1,2.1 0 1,0 4.2,0a2.1,2.1 0 1,0 -4.2,0zM342.8,461.2a2.1,2.1 0 1,0 4.2,0a2.1,2.1 0 1,0 -4.2,0zM348.9,459.5a2.1,2.1 0 1,0 4.2,0a2.1,2.1 0 1,0 -4.2,0zM355.0,457.7a2.1,2.1 0 1,0 4.2,0a2.1,2.1 0 1,0 -4.2,0zM361.2,455.7a2.1,2.1 0 1,0 4.2,0a2.1,2.1 0 1,0 -4.2,0zM367.3,453.5a2.1,2.1 0 1,0 4.2,0a2.1,2.1 0 1,0 -4.2,0zM373.5,451.1a2.1,2.1 0 1,0 4.2,0a2.1,2.1 0 1,0 -4.2,0zM379.6,448.5a2.1,2.1 0 1,0 4.2,0a2.1,2.1 0 1,0 -4.2,0zM385.7,445.6a2.1,2.1 0 1,0 4.2,0a2.1,2.1 0 1,0 -4.2,0zM391.9,442.4a2.1,2.1 0 1,0 4.2,0a2.1,2.1 0 1,0 -4.2,0zM398.0,439.0a2.1,2.1 0 1,0 4.2,0a2.1,2.1 0 1,0 -4.2,0zM404.1,435.2a2.1,2.1 0 1,0 4.2,0a2.1,2.1 0 1,0 -4.2,0zM410.3,431.1a2.1,2.1 0 1,0 4.2,0a2.1,2.1 0 1,0 -4.2,0zM416.4,426.6a2.1,2.1 0 1,0 4.2,0a2.1,2.1 0 1,0 -4.2,0zM422.5,421.7a2.1,2.1 0 1,0 4.2,0a2.1,2.1 0 1,0 -4.2,0zM428.7,416.3a2.1,2.1 0 1,0 4.2,0a2.1,2.1 0 1,0 -4.2,0zM434.8,410.4a2.1,2.1 0 1,0 4.2,0a2.1,2.1 0 1,0 -4.2,0zM440.9,403.9a2.1,2.1 0 1,0 4.2,0a2.1,2.1 0 1,0 -4.2,0zM447.1,396.8a2.1,2.1 0 1,0 4.2,0a2.1,2.1 0 1,0 -4.2,0zM453.2,389.1a2.1,2.1 0 1,0 4.2,0a2.1,2.1 0 1,0 -4.2,0zM459.4,380.6a2.1,2.1 0 1,0 4.2,0a2.1,2.1 0 1,0 -4.2,0zM465.5,371.4a2.1,2.1 0 1,0 4.2,0a2.1,2.1 0 1,0 -4.2,0zM471.6,361.2a2.1,2.1 0 1,0 4.2,0a2.1,2.1 0 1,0 -4.2,0zM477.8,350.1a2.1,2.1 0 1,0 4.2,0a2.1,2.1 0 1,0 -4.2,0zM483.9,338.0a2.1,2.1 0 1,0 4.2,0a2.1,2.1 0 1,0 -4.2,0z" fill="#1fae3a"/>
<polyline points="332.6,464.1 338.7,462.8 344.9,461.3 351.0,459.6 357.1,457.8 363.3,455.8 369.4,453.7 375.6,451.3 381.7,448.7 387.8,445.9 394.0,442.8 400.1,439.4 406.2,435.7 412.4,431.6 418.5,427.2 424.6,422.3 430.8,417.0 436.9,411.2 443.0,404.8 449.2,397.9 455.3,390.3 461.5,381.9 467.6,372.8 473.7,362.8 479.9,351.9 486.0,339.9" fill="none" stroke="#1e3cf0" stroke-width="0.5" opacity="0.8"/>
<path d="M332.6,461.4l2.67,4.60h-5.34zM338.7,460.0l2.67,4.60h-5.34zM344.9,458.5l2.67,4.60h-5.34zM351.0,456.8l2.67,4.60h-5.34zM357.1,455.0l2.67,4.60h-5.34zM363.3,453.1l2.67,4.60h-5.34zM369.4,450.9l2.67,4.60h-5.34zM375.6,448.5l2.67,4.60h-5.34zM381.7,446.0l2.67,4.60h-5.34zM387.8,443.1l2.67,4.60h-5.34zM394.0,440.0l2.67,4.60h-5.34zM400.1,436.6l2.67,4.60h-5.34zM406.2,432.9l2.67,4.60h-5.34zM412.4,428.9l2.67,4.60h-5.34zM418.5,424.4l2.67,4.60h-5.34zM424.6,419.6l2.67,4.60h-5.34zM430.8,414.3l2.67,4.60h-5.34zM436.9,408.4l2.67,4.60h-5.34zM443.0,402.1l2.67,4.60h-5.34zM449.2,395.1l2.67,4.60h-5.34zM455.3,387.5l2.67,4.60h-5.34zM461.5,379.2l2.67,4.60h-5.34zM467.6,370.0l2.67,4.60h-5.34zM473.7,360.1l2.67,4.60h-5.34zM479.9,349.1l2.67,4.60h-5.34zM486.0,337.2l2.67,4.60h-5.34z" fill="#1e3cf0"/>
<polyline points="332.6,464.1 338.7,462.8 344.9,461.3 351.0,459.7 357.1,457.9 363.3,455.9 369.4,453.8 375.6,451.5 381.7,448.9 387.8,446.1 394.0,443.1 400.1,439.8 406.2,436.1 412.4,432.1 418.5,427.7 424.6,422.9 430.8,417.7 436.9,412.0 443.0,405.7 449.2,398.8 455.3,391.3 461.5,383.1 467.6,374.1 473.7,364.3 479.9,353.5 486.0,341.7" fill="none" stroke="#19c7e0" stroke-width="0.5" opacity="0.8"/>
<path d="M332.6,461.3l2.37,2.79l-2.37,2.79l-2.37,-2.79zM338.7,460.0l2.37,2.79l-2.37,2.79l-2.37,-2.79zM344.9,458.5l2.37,2.79l-2.37,2.79l-2.37,-2.79zM351.0,456.9l2.37,2.79l-2.37,2.79l-2.37,-2.79zM357.1,455.1l2.37,2.79l-2.37,2.79l-2.37,-2.79zM363.3,453.1l2.37,2.79l-2.37,2.79l-2.37,-2.79zM369.4,451.0l2.37,2.79l-2.37,2.79l-2.37,-2.79zM375.6,448.7l2.37,2.79l-2.37,2.79l-2.37,-2.79zM381.7,446.1l2.37,2.79l-2.37,2.79l-2.37,-2.79zM387.8,443.3l2.37,2.79l-2.37,2.79l-2.37,-2.79zM394.0,440.3l2.37,2.79l-2.37,2.79l-2.37,-2.79zM400.1,437.0l2.37,2.79l-2.37,2.79l-2.37,-2.79zM406.2,433.3l2.37,2.79l-2.37,2.79l-2.37,-2.79zM412.4,429.3l2.37,2.79l-2.37,2.79l-2.37,-2.79zM418.5,424.9l2.37,2.79l-2.37,2.79l-2.37,-2.79zM424.6,420.1l2.37,2.79l-2.37,2.79l-2.37,-2.79zM430.8,414.9l2.37,2.79l-2.37,2.79l-2.37,-2.79zM436.9,409.2l2.37,2.79l-2.37,2.79l-2.37,-2.79zM443.0,402.9l2.37,2.79l-2.37,2.79l-2.37,-2.79zM449.2,396.0l2.37,2.79l-2.37,2.79l-2.37,-2.79zM455.3,388.5l2.37,2.79l-2.37,2.79l-2.37,-2.79zM461.5,380.3l2.37,2.79l-2.37,2.79l-2.37,-2.79zM467.6,371.3l2.37,2.79l-2.37,2.79l-2.37,-2.79zM473.7,361.5l2.37,2.79l-2.37,2.79l-2.37,-2.79zM479.9,350.7l2.37,2.79l-2.37,2.79l-2.37,-2.79zM486.0,338.9l2.37,2.79l-2.37,2.79l-2.37,-2.79z" fill="#19c7e0"/>
<polyline points="332.6,464.1 338.7,462.8 344.9,461.4 351.0,459.9 357.1,458.2 363.3,456.3 369.4,454.2 375.6,452.0 381.7,449.5 387.8,446.9 394.0,443.9 400.1,440.7 406.2,437.2 412.4,433.3 418.5,429.0 424.6,424.4 430.8,419.3 436.9,413.8 443.0,407.7 449.2,401.0 455.3,393.7 461.5,385.6 467.6,376.9 473.7,367.3 479.9,356.7 486.0,345.2" fill="none" stroke="#e63cc8" stroke-width="0.5" opacity="0.8"/>
<path d="M335.2,464.1l-4.40,-2.55v5.10zM341.4,462.8l-4.40,-2.55v5.10zM347.5,461.4l-4.40,-2.55v5.10zM353.6,459.9l-4.40,-2.55v5.10zM359.8,458.2l-4.40,-2.55v5.10zM365.9,456.3l-4.40,-2.55v5.10zM372.1,454.2l-4.40,-2.55v5.10zM378.2,452.0l-4.40,-2.55v5.10zM384.3,449.5l-4.40,-2.55v5.10zM390.5,446.9l-4.40,-2.55v5.10zM396.6,443.9l-4.40,-2.55v5.10zM402.7,440.7l-4.40,-2.55v5.10zM408.9,437.2l-4.40,-2.55v5.10zM415.0,433.3l-4.40,-2.55v5.10zM421.1,429.0l-4.40,-2.55v5.10zM427.3,424.4l-4.40,-2.55v5.10zM433.4,419.3l-4.40,-2.55v5.10zM439.6,413.8l-4.40,-2.55v5.10zM445.7,407.7l-4.40,-2.55v5.10zM451.8,401.0l-4.40,-2.55v5.10zM458.0,393.7l-4.40,-2.55v5.10zM464.1,385.6l-4.40,-2.55v5.10zM470.2,376.9l-4.40,-2.55v5.10zM476.4,367.3l-4.40,-2.55v5.10zM482.5,356.7l-4.40,-2.55v5.10zM488.6,345.2l-4.40,-2.55v5.10z" fill="#e63cc8"/>
<polyline points="332.6,464.1 338.7,462.9 344.9,461.6 351.0,460.1 357.1,458.5 363.3,456.7 369.4,454.7 375.6,452.6 381.7,450.2 387.8,447.7 394.0,444.8 400.1,441.7 406.2,438.4 412.4,434.6 418.5,430.6 424.6,426.1 430.8,421.2 436.9,415.8 443.0,409.9 449.2,403.5 455.3,396.4 461.5,388.6 467.6,380.1 473.7,370.8 479.9,360.6 486.0,349.4" fill="none" stroke="#f58220" stroke-width="0.5" opacity="0.8"/>
<path d="M329.8,464.1l4.60,-2.67v5.34zM336.0,462.9l4.60,-2.67v5.34zM342.1,461.6l4.60,-2.67v5.34zM348.2,460.1l4.60,-2.67v5.34zM354.4,458.5l4.60,-2.67v5.34zM360.5,456.7l4.60,-2.67v5.34zM366.7,454.7l4.60,-2.67v5.34zM372.8,452.6l4.60,-2.67v5.34zM378.9,450.2l4.60,-2.67v5.34zM385.1,447.7l4.60,-2.67v5.34zM391.2,444.8l4.60,-2.67v5.34zM397.3,441.7l4.60,-2.67v5.34zM403.5,438.4l4.60,-2.67v5.34zM409.6,434.6l4.60,-2.67v5.34zM415.7,430.6l4.60,-2.67v5.34zM421.9,426.1l4.60,-2.67v5.34zM428.0,421.2l4.60,-2.67v5.34zM434.2,415.8l4.60,-2.67v5.34zM440.3,409.9l4.60,-2.67v5.34zM446.4,403.5l4.60,-2.67v5.34zM452.6,396.4l4.60,-2.67v5.34zM458.7,388.6l4.60,-2.67v5.34zM464.8,380.1l4.60,-2.67v5.34zM471.0,370.8l4.60,-2.67v5.34zM477.1,360.6l4.60,-2.67v5.34zM483.2,349.4l4.60,-2.67v5.34z" fill="#f58220"/>
<polyline points="332.6,464.7 338.7,463.8 344.9,462.8 351.0,461.7 357.1,460.5 363.3,459.1 369.4,457.6 375.6,456.0 381.7,454.1 387.8,452.1 394.0,449.8 400.1,447.3 406.2,444.5 412.4,441.4 418.5,437.9 424.6,434.1 430.8,429.8 436.9,425.1 443.0,419.9 449.2,414.1 455.3,407.6 461.5,400.5 467.6,392.6 473.7,383.8 479.9,374.0 486.0,363.2" fill="none" stroke="#8c8c1c" stroke-width="0.5" opacity="0.8"/>
<path d="M332.6,467.5l2.67,-4.60h-5.34zM338.7,466.6l2.67,-4.60h-5.34zM344.9,465.6l2.67,-4.60h-5.34zM351.0,464.5l2.67,-4.60h-5.34zM357.1,463.3l2.67,-4.60h-5.34zM363.3,461.9l2.67,-4.60h-5.34zM369.4,460.4l2.67,-4.60h-5.34zM375.6,458.7l2.67,-4.60h-5.34zM381.7,456.9l2.67,-4.60h-5.34zM387.8,454.8l2.67,-4.60h-5.34zM394.0,452.6l2.67,-4.60h-5.34zM400.1,450.0l2.67,-4.60h-5.34zM406.2,447.2l2.67,-4.60h-5.34zM412.4,444.1l2.67,-4.60h-5.34zM418.5,440.7l2.67,-4.60h-5.34zM424.6,436.8l2.67,-4.60h-5.34zM430.8,432.6l2.67,-4.60h-5.34zM436.9,427.9l2.67,-4.60h-5.34zM443.0,422.6l2.67,-4.60h-5.34zM449.2,416.8l2.67,-4.60h-5.34zM455.3,410.4l2.67,-4.60h-5.34zM461.5,403.3l2.67,-4.60h-5.34zM467.6,395.3l2.67,-4.60h-5.34zM473.7,386.5l2.67,-4.60h-5.34zM479.9,376.8l2.67,-4.60h-5.34zM486.0,365.9l2.67,-4.60h-5.34z" fill="#8c8c1c"/>
<polyline points="332.6,467.9 338.7,467.1 344.9,466.2 351.0,465.2 357.1,464.2 363.3,463.0 369.4,461.7 375.6,460.2 381.7,458.6 387.8,456.7 394.0,454.7 400.1,452.5 406.2,450.0 412.4,447.3 418.5,444.3 424.6,440.9 430.8,437.1 436.9,433.0 443.0,428.4 449.2,423.3 455.3,417.6 461.5,411.3 467.6,404.3 473.7,396.5 479.9,387.9 486.0,378.4" fill="none" stroke="#16249c" stroke-width="0.5" opacity="0.8"/>
<path d="M332.6,465.1l2.67,4.60h-5.34zM338.7,464.3l2.67,4.60h-5.34zM344.9,463.5l2.67,4.60h-5.34zM351.0,462.5l2.67,4.60h-5.34zM357.1,461.4l2.67,4.60h-5.34zM363.3,460.2l2.67,4.60h-5.34zM369.4,458.9l2.67,4.60h-5.34zM375.6,457.4l2.67,4.60h-5.34zM381.7,455.8l2.67,4.60h-5.34zM387.8,454.0l2.67,4.60h-5.34zM394.0,452.0l2.67,4.60h-5.34zM400.1,449.8l2.67,4.60h-5.34zM406.2,447.3l2.67,4.60h-5.34zM412.4,444.5l2.67,4.60h-5.34zM418.5,441.5l2.67,4.60h-5.34zM424.6,438.1l2.67,4.60h-5.34zM430.8,434.4l2.67,4.60h-5.34zM436.9,430.2l2.67,4.60h-5.34zM443.0,425.6l2.67,4.60h-5.34zM449.2,420.5l2.67,4.60h-5.34zM455.3,414.8l2.67,4.60h-5.34zM461.5,408.5l2.67,4.60h-5.34zM467.6,401.5l2.67,4.60h-5.34zM473.7,393.8l2.67,4.60h-5.34zM479.9,385.2l2.67,4.60h-5.34zM486.0,375.6l2.67,4.60h-5.34z" fill="#16249c"/>
<polyline points="332.6,471.6 338.7,471.1 344.9,470.6 351.0,470.0 357.1,469.3 363.3,468.5 369.4,467.6 375.6,466.7 381.7,465.5 387.8,464.3 394.0,462.9 400.1,461.3 406.2,459.5 412.4,457.5 418.5,455.2 424.6,452.6 430.8,449.7 436.9,446.4 443.0,442.8 449.2,438.6 455.3,433.9 461.5,428.6 467.6,422.7 473.7,415.9 479.9,408.4 486.0,399.8" fill="none" stroke="#c832b4" stroke-width="0.5" opacity="0.8"/>
<path d="M330.6,471.6a2.0,2.0 0 1,0 4.0,0a2.0,2.0 0 1,0 -4.0,0zM336.7,471.1a2.0,2.0 0 1,0 4.0,0a2.0,2.0 0 1,0 -4.0,0zM342.9,470.6a2.0,2.0 0 1,0 4.0,0a2.0,2.0 0 1,0 -4.0,0zM349.0,470.0a2.0,2.0 0 1,0 4.0,0a2.0,2.0 0 1,0 -4.0,0zM355.1,469.3a2.0,2.0 0 1,0 4.0,0a2.0,2.0 0 1,0 -4.0,0zM361.3,468.5a2.0,2.0 0 1,0 4.0,0a2.0,2.0 0 1,0 -4.0,0zM367.4,467.6a2.0,2.0 0 1,0 4.0,0a2.0,2.0 0 1,0 -4.0,0zM373.6,466.7a2.0,2.0 0 1,0 4.0,0a2.0,2.0 0 1,0 -4.0,0zM379.7,465.5a2.0,2.0 0 1,0 4.0,0a2.0,2.0 0 1,0 -4.0,0zM385.8,464.3a2.0,2.0 0 1,0 4.0,0a2.0,2.0 0 1,0 -4.0,0zM392.0,462.9a2.0,2.0 0 1,0 4.0,0a2.0,2.0 0 1,0 -4.0,0zM398.1,461.3a2.0,2.0 0 1,0 4.0,0a2.0,2.0 0 1,0 -4.0,0zM404.2,459.5a2.0,2.0 0 1,0 4.0,0a2.0,2.0 0 1,0 -4.0,0zM410.4,457.5a2.0,2.0 0 1,0 4.0,0a2.0,2.0 0 1,0 -4.0,0zM416.5,455.2a2.0,2.0 0 1,0 4.0,0a2.0,2.0 0 1,0 -4.0,0zM422.6,452.6a2.0,2.0 0 1,0 4.0,0a2.0,2.0 0 1,0 -4.0,0zM428.8,449.7a2.0,2.0 0 1,0 4.0,0a2.0,2.0 0 1,0 -4.0,0zM434.9,446.4a2.0,2.0 0 1,0 4.0,0a2.0,2.0 0 1,0 -4.0,0zM441.0,442.8a2.0,2.0 0 1,0 4.0,0a2.0,2.0 0 1,0 -4.0,0zM447.2,438.6a2.0,2.0 0 1,0 4.0,0a2.0,2.0 0 1,0 -4.0,0zM453.3,433.9a2.0,2.0 0 1,0 4.0,0a2.0,2.0 0 1,0 -4.0,0zM459.5,428.6a2.0,2.0 0 1,0 4.0,0a2.0,2.0 0 1,0 -4.0,0zM465.6,422.7a2.0,2.0 0 1,0 4.0,0a2.0,2.0 0 1,0 -4.0,0zM471.7,415.9a2.0,2.0 0 1,0 4.0,0a2.0,2.0 0 1,0 -4.0,0zM477.9,408.4a2.0,2.0 0 1,0 4.0,0a2.0,2.0 0 1,0 -4.0,0zM484.0,399.8a2.0,2.0 0 1,0 4.0,0a2.0,2.0 0 1,0 -4.0,0z" fill="#c832b4"/>
<polyline points="332.6,475.8 338.7,475.4 344.9,475.1 351.0,474.7 357.1,474.2 363.3,473.7 369.4,473.1 375.6,472.4 381.7,471.6 387.8,470.7 394.0,469.8 400.1,468.7 406.2,467.4 412.4,466.0 418.5,464.4 424.6,462.5 430.8,460.5 436.9,458.1 443.0,455.5 449.2,452.5 455.3,449.1 461.5,445.2 467.6,440.9 473.7,435.9 479.9,430.3 486.0,424.0" fill="none" stroke="#a01616" stroke-width="0.5" opacity="0.8"/>
<path d="M330.9,474.1h3.4v3.4h-3.4zM337.0,473.7h3.4v3.4h-3.4zM343.2,473.4h3.4v3.4h-3.4zM349.3,473.0h3.4v3.4h-3.4zM355.4,472.5h3.4v3.4h-3.4zM361.6,472.0h3.4v3.4h-3.4zM367.7,471.4h3.4v3.4h-3.4zM373.9,470.7h3.4v3.4h-3.4zM380.0,469.9h3.4v3.4h-3.4zM386.1,469.0h3.4v3.4h-3.4zM392.3,468.1h3.4v3.4h-3.4zM398.4,467.0h3.4v3.4h-3.4zM404.5,465.7h3.4v3.4h-3.4zM410.7,464.3h3.4v3.4h-3.4zM416.8,462.7h3.4v3.4h-3.4zM422.9,460.8h3.4v3.4h-3.4zM429.1,458.8h3.4v3.4h-3.4zM435.2,456.4h3.4v3.4h-3.4zM441.3,453.8h3.4v3.4h-3.4zM447.5,450.8h3.4v3.4h-3.4zM453.6,447.4h3.4v3.4h-3.4zM459.8,443.5h3.4v3.4h-3.4zM465.9,439.2h3.4v3.4h-3.4zM472.0,434.2h3.4v3.4h-3.4zM478.2,428.6h3.4v3.4h-3.4zM484.3,422.3h3.4v3.4h-3.4z" fill="#a01616"/>
<g font-size="6" font-weight="bold" fill="#2a2a2a" font-family="'DejaVu Sans', 'Liberation Sans', sans-serif">
<text x="491.5" y="334.1" style="font-family:'DejaVu Sans','Liberation Sans',sans-serif">pH 12</text>
<text x="493.9" y="350.6" style="font-family:'DejaVu Sans','Liberation Sans',sans-serif">pH 6</text>
<text x="493.9" y="364" style="font-family:'DejaVu Sans','Liberation Sans',sans-serif">pH 5</text>
<text x="493.9" y="380.4" style="font-family:'DejaVu Sans','Liberation Sans',sans-serif">pH 4</text>
<text x="493.9" y="399.9" style="font-family:'DejaVu Sans','Liberation Sans',sans-serif">pH 3</text>
<text x="493.9" y="427.2" style="font-family:'DejaVu Sans','Liberation Sans',sans-serif">pH 2</text>
</g>
<path d="M503.9,335.2 V344.4" stroke="#222" stroke-width="0.9" stroke-dasharray="1 1.6"/>
</g>
</svg>
</body>
</html>
